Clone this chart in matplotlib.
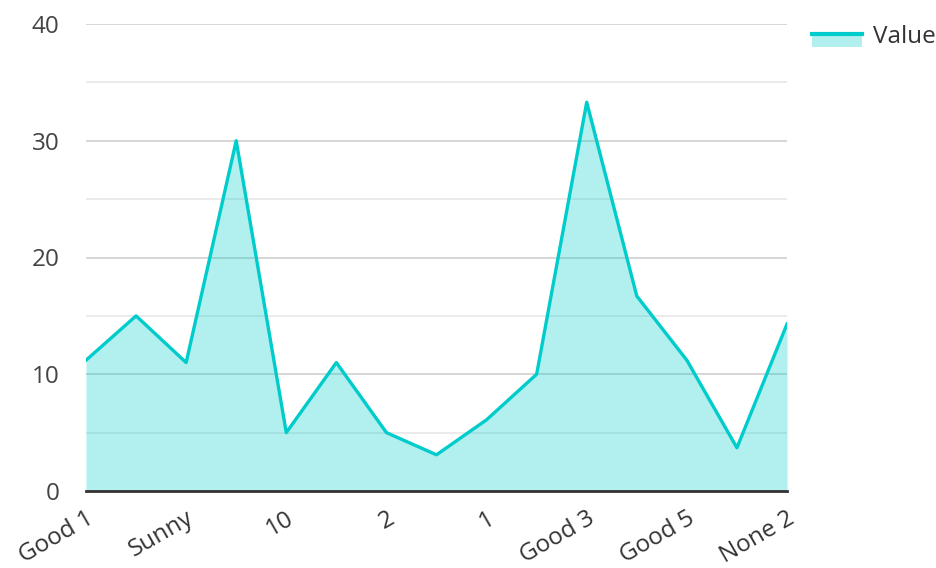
import matplotlib
matplotlib.use("Agg")
import matplotlib.pyplot as plt
from matplotlib.patches import Patch, Rectangle
from matplotlib.lines import Line2D
from matplotlib.legend_handler import HandlerPatch, HandlerTuple
from matplotlib.ticker import MultipleLocator

# categories (only every other one is labelled on the axis)
categories = ["Good 1", "Bad 1", "Sunny", "Cloudy", "10", "5", "2", "3",
              "1", "Good 2", "Good 3", "Good 4", "Good 5", "None 1", "None 2"]
values = [11.2, 15.0, 11.0, 30.0, 5.0, 11.0, 5.0, 3.1,
          6.1, 10.0, 33.3, 16.7, 11.2, 3.7, 14.3]
series_name = "Value"

LINE = "#00cccc"
TEXT = "#444444"
FS = 17.5

plt.rcParams["font.family"] = ["Open Sans", "DejaVu Sans"]

fig = plt.figure(figsize=(9.37, 5.68), dpi=100)
ax = fig.add_axes([86 / 937, 77 / 568, 701 / 937, 467 / 568])

xs = list(range(len(categories)))
ax.fill_between(xs, values, 0, color=LINE, alpha=0.3, linewidth=0, zorder=2)
ax.plot(xs, values, color=LINE, linewidth=2.4, zorder=3)

ax.set_xlim(0, len(categories) - 1)
ax.set_ylim(0, 40)
ax.yaxis.set_major_locator(MultipleLocator(10))
ax.yaxis.set_minor_locator(MultipleLocator(5))
ax.grid(which="major", axis="y", color="#cccccc", linewidth=1.1, zorder=1)
ax.grid(which="minor", axis="y", color="#e6e6e6", linewidth=1.1, zorder=1)
ax.set_axisbelow(True)

ax.set_xticks(xs[::2])
ax.set_xticklabels(categories[::2], rotation=30, ha="right",
                   rotation_mode="anchor", fontsize=FS, color="#333333")
ax.tick_params(axis="x", length=0, pad=11)
ax.tick_params(axis="y", which="both", length=0, pad=19, labelsize=FS,
               labelcolor=TEXT)

for s in ["top", "right", "left"]:
    ax.spines[s].set_visible(False)
ax.spines["bottom"].set_color("#333333")
ax.spines["bottom"].set_linewidth(2)
ax.spines["bottom"].set_zorder(4)


# legend swatch: fill below, line on top
def lower_fill(legend, orig_handle, xdescent, ydescent, width, height, fontsize):
    return Rectangle((-xdescent, -ydescent - 0.25 * height), width, 0.75 * height)


handle = (Patch(facecolor=LINE, alpha=0.3, edgecolor="none"),
          Line2D([], [], color=LINE, linewidth=3))
fig.legend([handle], [series_name], loc="upper left",
           bbox_to_anchor=(812 / 937, 1 - 25 / 568), frameon=False,
           borderpad=0, borderaxespad=0,
           fontsize=FS, handlelength=2.05, handletextpad=0.45,
           labelcolor="#333333",
           handler_map={tuple: HandlerTuple(ndivide=1),
                        Patch: HandlerPatch(patch_func=lower_fill)})

fig.savefig("out.png", dpi=100)
plt.close(fig)
